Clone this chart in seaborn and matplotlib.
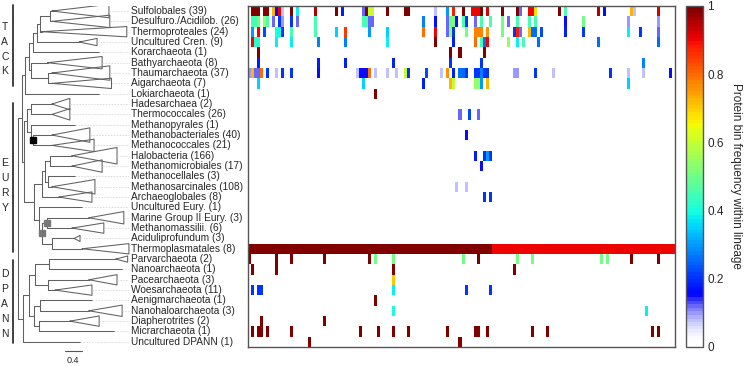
import numpy as np
import matplotlib
matplotlib.use("Agg")
import matplotlib.pyplot as plt
import seaborn as sns
from matplotlib.colors import ListedColormap

# ------------------------------------------------------------
# Donnees : lignees, nombre de genomes, frequences par "bin"
# ------------------------------------------------------------
lineages = ["Sulfolobales", "Desulfuro./Acidilob.", "Thermoproteales", "Uncultured Cren.",
            "Korarchaeota", "Bathyarchaeota", "Thaumarchaeota", "Aigarchaeota",
            "Lokiarchaeota", "Hadesarchaea", "Thermococcales", "Methanopyrales",
            "Methanobacteriales", "Methanococcales", "Halobacteria", "Methanomicrobiales",
            "Methanocellales", "Methanosarcinales", "Archaeoglobales", "Uncultured Eury.",
            "Marine Group II Eury.", "Methanomassilii.", "Aciduliprofundum",
            "Thermoplasmatales", "Parvarchaeota", "Nanoarchaeota", "Pacearchaeota",
            "Woesarchaeota", "Aenigmarchaeota", "Nanohaloarchaeota", "Diapherotrites",
            "Micrarchaeota", "Uncultured DPANN"]
genome_counts = [39, 26, 24, 9, 1, 8, 37, 7, 1, 2, 26, 1, 40, 21, 166, 17, 3, 108, 8, 1,
                 3, 6, 3, 8, 2, 1, 3, 11, 1, 3, 2, 1, 1]
n_bins = 142

# (ligne, bin debut, bin fin, frequence)
tack_cells = [
    (0, 1, 3, 1.0), (0, 5, 6, 1.0), (0, 8, 8, 0.72), (0, 9, 9, 0.15), (0, 10, 10, 0.9),
    (0, 11, 11, 0.08), (0, 14, 14, 1.0), (0, 16, 16, 0.38), (0, 22, 22, 0.95),
    (0, 29, 29, 1.0), (0, 31, 31, 0.18), (0, 38, 38, 0.12), (0, 39, 39, 1.0),
    (0, 40, 41, 0.6), (0, 46, 46, 1.0), (0, 52, 53, 1.0), (0, 62, 62, 0.08),
    (0, 66, 66, 0.3), (0, 68, 68, 0.88), (0, 71, 71, 1.0), (0, 74, 76, 0.9),
    (0, 77, 77, 1.0), (0, 79, 79, 0.92), (0, 84, 84, 1.0), (0, 89, 89, 1.0),
    (0, 90, 90, 0.12), (0, 93, 94, 0.9), (0, 95, 95, 0.68), (0, 103, 103, 1.0),
    (0, 105, 105, 0.45), (0, 116, 116, 0.95), (0, 118, 118, 0.15), (0, 127, 127, 0.72),
    (0, 128, 128, 0.08), (0, 136, 136, 0.92),
    (1, 1, 2, 0.45), (1, 3, 3, 0.5), (1, 5, 5, 0.55), (1, 6, 6, 0.45), (1, 8, 8, 0.12),
    (1, 10, 10, 0.2), (1, 11, 11, 0.1), (1, 14, 14, 0.2), (1, 16, 16, 0.12),
    (1, 22, 22, 0.45), (1, 38, 39, 0.45), (1, 40, 41, 0.12), (1, 58, 58, 0.28),
    (1, 62, 62, 0.15), (1, 66, 66, 0.12), (1, 67, 68, 0.5), (1, 69, 69, 0.15),
    (1, 71, 71, 0.45), (1, 72, 72, 0.2), (1, 75, 75, 0.12), (1, 77, 77, 0.45),
    (1, 80, 80, 0.45), (1, 84, 84, 0.5), (1, 86, 86, 0.12), (1, 89, 89, 0.45),
    (1, 93, 93, 0.45), (1, 95, 95, 0.45), (1, 105, 105, 0.15), (1, 111, 111, 0.5),
    (1, 126, 126, 0.1), (1, 136, 136, 0.1),
    (2, 1, 1, 0.3), (2, 3, 3, 0.9), (2, 5, 5, 0.22), (2, 9, 10, 0.4), (2, 11, 11, 0.2),
    (2, 14, 14, 0.45), (2, 22, 22, 0.45), (2, 29, 29, 0.35), (2, 32, 32, 0.85),
    (2, 40, 40, 0.3), (2, 46, 46, 0.35), (2, 58, 58, 0.8), (2, 62, 62, 0.9),
    (2, 66, 66, 0.12), (2, 67, 67, 0.55), (2, 68, 68, 0.2), (2, 72, 72, 0.5),
    (2, 75, 77, 0.78), (2, 79, 79, 0.75), (2, 84, 84, 0.5), (2, 88, 88, 0.2),
    (2, 89, 89, 0.88), (2, 90, 90, 0.12), (2, 93, 93, 0.72), (2, 94, 95, 0.25),
    (2, 97, 97, 0.22), (2, 105, 105, 0.18), (2, 111, 111, 0.2), (2, 126, 126, 0.38),
    (2, 130, 130, 0.2), (2, 136, 136, 0.12),
    (3, 1, 1, 0.9), (3, 2, 3, 0.42), (3, 9, 9, 0.38), (3, 14, 14, 0.38), (3, 23, 23, 0.28),
    (3, 32, 32, 0.28), (3, 46, 46, 0.38), (3, 62, 62, 1.0), (3, 68, 68, 0.18),
    (3, 75, 75, 0.8), (3, 77, 77, 0.45), (3, 78, 78, 0.25), (3, 79, 79, 0.9),
    (3, 86, 86, 0.55), (3, 89, 89, 0.38), (3, 91, 91, 0.45), (3, 96, 96, 0.25),
    (3, 116, 116, 0.25), (3, 136, 136, 0.25),
    (4, 3, 3, 1.0), (4, 67, 67, 1.0), (4, 70, 70, 1.0), (4, 78, 78, 1.0),
    (5, 3, 3, 0.18), (5, 23, 23, 0.18), (5, 32, 32, 0.18), (5, 48, 48, 0.18),
    (5, 67, 67, 0.2), (5, 77, 77, 0.2), (5, 131, 131, 0.28),
    (6, 0, 0, 0.1), (6, 1, 1, 0.72), (6, 2, 3, 0.12), (6, 4, 4, 0.8), (6, 6, 6, 0.2),
    (6, 9, 9, 0.08), (6, 11, 11, 0.2), (6, 14, 14, 0.2), (6, 23, 23, 0.15),
    (6, 36, 36, 0.08), (6, 37, 39, 0.15), (6, 40, 40, 0.8), (6, 42, 42, 0.08),
    (6, 46, 46, 0.08), (6, 49, 49, 0.08), (6, 52, 52, 0.6), (6, 53, 53, 0.2),
    (6, 59, 59, 0.22), (6, 64, 64, 0.08), (6, 66, 66, 0.75), (6, 68, 68, 0.18),
    (6, 70, 71, 0.25), (6, 72, 72, 0.2), (6, 75, 76, 0.2), (6, 77, 77, 0.28),
    (6, 78, 79, 0.2), (6, 88, 89, 0.1), (6, 95, 95, 0.2), (6, 101, 101, 0.08),
    (6, 120, 120, 0.2), (6, 126, 126, 0.08), (6, 131, 131, 0.08), (6, 140, 140, 0.15),
    (7, 3, 3, 0.35), (7, 38, 38, 0.35), (7, 58, 58, 0.18), (7, 67, 67, 0.72),
    (7, 68, 68, 0.6), (7, 75, 76, 0.55), (7, 77, 77, 0.3), (7, 79, 79, 0.72),
    (7, 126, 126, 0.35),
    (8, 42, 42, 1.0),
]
eury_cells = [
    (10, 70, 70, 0.12), (10, 73, 73, 0.22), (10, 76, 76, 0.12),
    (12, 72, 72, 0.15),
    (14, 75, 75, 0.18), (14, 78, 78, 0.2), (14, 79, 79, 0.3), (14, 80, 80, 0.2),
    (15, 77, 77, 0.15),
    (17, 69, 69, 0.08), (17, 72, 72, 0.08),
    (18, 78, 78, 0.2), (18, 80, 80, 0.2),
    (23, 0, 80, 1.0), (23, 81, 141, 0.9),
]
dpann_cells = [
    (24, 0, 0, 1.0), (24, 9, 9, 1.0), (24, 14, 14, 1.0), (24, 25, 25, 1.0),
    (24, 40, 40, 1.0), (24, 42, 42, 0.5), (24, 48, 48, 0.5), (24, 71, 71, 0.5),
    (24, 76, 76, 1.0), (24, 89, 89, 0.5), (24, 94, 94, 0.5), (24, 117, 117, 0.5),
    (24, 119, 119, 0.5), (24, 127, 127, 1.0), (24, 136, 136, 1.0),
    (25, 1, 1, 1.0), (25, 9, 9, 1.0), (25, 48, 48, 1.0), (25, 88, 88, 1.0),
    (26, 48, 48, 0.7),
    (27, 1, 1, 0.2), (27, 3, 4, 0.2), (27, 48, 48, 0.38), (27, 72, 72, 0.2),
    (27, 80, 80, 0.2),
    (28, 42, 42, 1.0),
    (29, 48, 48, 0.4), (29, 132, 132, 0.38),
    (30, 4, 4, 1.0), (30, 25, 25, 1.0),
    (31, 1, 1, 1.0), (31, 3, 4, 1.0), (31, 6, 6, 1.0), (31, 14, 14, 1.0),
    (31, 37, 37, 1.0), (31, 43, 43, 1.0), (31, 48, 48, 1.0), (31, 53, 53, 1.0),
    (31, 66, 66, 1.0), (31, 75, 76, 1.0), (31, 79, 79, 1.0), (31, 94, 94, 1.0),
    (31, 99, 99, 1.0), (31, 134, 134, 1.0), (31, 136, 136, 1.0),
    (32, 20, 20, 1.0), (32, 70, 70, 1.0),
]

# Groupes (barres verticales a gauche)
group_names = ["TACK", "EURY", "DPANN"]
group_spans = [(-0.1, 7.8), (9.4, 23.8), (24.6, 32.6)]
group_letter_start = [2.0, 15.2, 25.9]


# ------------------------------------------------------------
# Arbre (longueurs de branche cumulees depuis la racine)
# ------------------------------------------------------------
def leaf(name, apex, tip, half=0.0):
    return ("leaf", name, apex, tip, half)


def node(depth, *children, mark=None):
    return ("node", depth, children, mark)


tack = node(0.26,
            node(0.36,
                 node(0.45,
                      node(0.52,
                           node(0.75, leaf("Sulfolobales", 0.80, 2.14, 0.65),
                                leaf("Desulfuro./Acidilob.", 0.80, 2.16, 0.6)),
                           leaf("Thermoproteales", 0.56, 2.56, 0.5)),
                      leaf("Uncultured Cren.", 1.44, 1.86, 0.35)),
                 leaf("Korarchaeota", 1.91, 1.91)),
            node(0.30,
                 leaf("Bathyarchaeota", 0.70, 1.98, 0.6),
                 node(0.70, leaf("Thaumarchaeota", 0.80, 2.16, 0.7),
                      leaf("Aigarchaeota", 0.80, 2.20, 0.5))))
tackl = node(0.16, tack, leaf("Lokiarchaeota", 1.91, 1.91))

eury = node(0.14,
            node(0.22,
                 node(0.31, leaf("Hadesarchaea", 0.80, 1.22, 0.55),
                      leaf("Thermococcales", 0.80, 1.22, 0.55)),
                 node(0.30, leaf("Methanopyrales", 1.34, 1.34),
                      node(0.36, leaf("Methanobacteriales", 0.80, 1.69, 0.7),
                           leaf("Methanococcales", 0.80, 1.79, 0.6), mark="black"))),
            node(0.38,
                 node(0.56,
                      node(0.64,
                           node(0.75, leaf("Halobacteria", 1.27, 2.33, 0.8),
                                leaf("Methanomicrobiales", 1.27, 1.98, 0.6)),
                           node(0.70, leaf("Methanocellales", 1.34, 1.34),
                                leaf("Methanosarcinales", 0.80, 1.81, 0.7))),
                      leaf("Archaeoglobales", 0.96, 1.74, 0.5)),
                 node(0.49,
                      leaf("Uncultured Eury.", 1.51, 1.51),
                      node(0.56,
                           node(0.68, leaf("Marine Group II Eury.", 1.67, 2.49, 0.6),
                                leaf("Methanomassilii.", 1.27, 2.02, 0.5), mark="gray"),
                           node(0.80, leaf("Aciduliprofundum", 1.32, 1.46, 0.3),
                                leaf("Thermoplasmatales", 1.51, 2.61, 0.5)),
                           mark="gray"))))

dpann = node(0.12,
             node(0.26,
                  node(0.40,
                       node(0.73, leaf("Parvarchaeota", 2.30, 2.58, 0.3),
                            leaf("Nanoarchaeota", 2.45, 2.45)),
                       node(0.70, leaf("Pacearchaeota", 1.67, 2.33, 0.5),
                            leaf("Woesarchaeota", 0.87, 1.74, 0.5))),
                  node(0.38,
                       node(0.52, leaf("Aenigmarchaeota", 1.74, 1.74),
                            leaf("Nanohaloarchaeota", 1.67, 2.45, 0.55)),
                       node(0.49, leaf("Diapherotrites", 1.22, 1.91, 0.5),
                            leaf("Micrarchaeota", 2.26, 2.26)))),
             leaf("Uncultured DPANN", 1.46, 1.46))

tree = node(0.0, node(0.09, tackl, eury), dpann)


# ------------------------------------------------------------
# Colormap : blanc -> lavande -> jet
# ------------------------------------------------------------
def make_cmap(n=96):
    jet = plt.get_cmap("jet")
    colors = []
    for v in np.linspace(0, 1, n):
        if v < 0.15:
            a = (v / 0.15) ** 2
            colors.append((1 - a, 1 - a, 1.0, 1.0))
        else:
            colors.append(jet(0.125 + (v - 0.15) / 0.85 * 0.875))
    return ListedColormap(colors)


# ------------------------------------------------------------
# Figure
# ------------------------------------------------------------
sns.set_style("white")
plt.rcParams["font.family"] = ["Liberation Sans", "DejaVu Sans"]

fig = plt.figure(figsize=(7.45, 3.66), dpi=100)
bottom, height = 0.052, 0.932
ax_tree = fig.add_axes([0.0, bottom, 248 / 745, height])
ax_hm = fig.add_axes([248 / 745, bottom, 427 / 745, height])
cax = fig.add_axes([686 / 745, bottom, 17 / 745, height])

mat = np.zeros((len(lineages), n_bins))
for row, c0, c1, v in tack_cells + eury_cells + dpann_cells:
    mat[row, c0:c1 + 1] = v

sns.heatmap(mat, ax=ax_hm, cmap=make_cmap(), vmin=0, vmax=1, cbar_ax=cax,
            xticklabels=False, yticklabels=False)
for s in ax_hm.spines.values():
    s.set_visible(True)
    s.set_color("#555555")
    s.set_linewidth(1.0)

cbar = ax_hm.collections[0].colorbar
cbar.set_ticks([0, 0.2, 0.4, 0.6, 0.8, 1.0])
cbar.set_ticklabels(["0", "0.2", "0.4", "0.6", "0.8", "1"])
cbar.ax.yaxis.set_minor_locator(matplotlib.ticker.MultipleLocator(0.1))
cbar.ax.tick_params(which="both", direction="in", length=3, width=0.6,
                    labelsize=8.5, color="#333333", pad=3)
cbar.ax.tick_params(which="minor", length=2)
cbar.outline.set_linewidth(1.0)
cbar.outline.set_edgecolor("#555555")
cbar.set_label("Protein bin frequency within lineage", rotation=270,
               labelpad=13, fontsize=8.5)

# --- arbre ---
row_of = {name: i for i, name in enumerate(lineages)}
line_col = "#606060"
label_x = 2.66


def draw(t, parent_depth):
    if t[0] == "leaf":
        _, name, apex, tip, half = t
        y = row_of[name] + 0.5
        ax_tree.plot([parent_depth, apex], [y, y], color=line_col, lw=0.75)
        if half > 0:
            ax_tree.plot([apex, tip, tip, apex], [y, y - half, y + half, y],
                         color=line_col, lw=0.75)
        else:
            ax_tree.plot([apex, tip], [y, y], color=line_col, lw=0.75)
        ax_tree.plot([tip, label_x - 0.05], [y, y], color="#d8d8d8", lw=0.6,
                     ls=(0, (2, 1.5)))
        return y
    _, depth, children, mark = t
    ys = [draw(c, depth) for c in children]
    y = (min(ys) + max(ys)) / 2
    ax_tree.plot([depth, depth], [min(ys), max(ys)], color=line_col, lw=0.75)
    ax_tree.plot([parent_depth, depth], [y, y], color=line_col, lw=0.75)
    if mark is not None:
        ax_tree.plot(depth, y, marker="s", ms=4.5,
                     color="black" if mark == "black" else "#777777", zorder=5)
    return y


draw(tree, 0.0)

for i, (name, n) in enumerate(zip(lineages, genome_counts)):
    ax_tree.text(label_x, i + 0.5, f"{name} ({n})", va="center", ha="left", fontsize=7.3)

for gname, (y0, y1), ystart in zip(group_names, group_spans, group_letter_start):
    ax_tree.plot([-0.12, -0.12], [y0, y1], color="#333333", lw=1.3, clip_on=False)
    for k, letter in enumerate(gname):
        ax_tree.text(-0.31, ystart + 1.45 * k, letter, ha="center", va="center",
                     fontsize=7.5)

# barre d'echelle
ax_tree.plot([1.1, 1.5], [33.4, 33.4], color="#555555", lw=0.8, clip_on=False)
ax_tree.text(1.3, 34.3, "0.4", ha="center", va="center", fontsize=6.5)

ax_tree.set_xlim(-18 / 42.5, (248 - 18) / 42.5)
ax_tree.set_ylim(len(lineages), 0)
ax_tree.axis("off")

fig.savefig("out.png", dpi=100)
